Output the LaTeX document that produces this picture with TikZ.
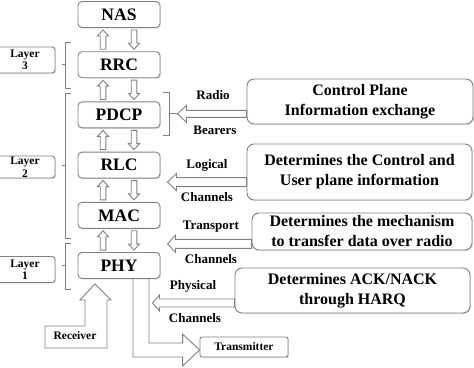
\documentclass[tikz,border=0pt]{standalone}
\usepackage{fontspec}
\setmainfont{Liberation Serif}
\usepackage{tikz}
\usetikzlibrary{calc,shadows}
\definecolor{clrL}{RGB}{128,128,128}
\definecolor{clrS}{RGB}{200,200,200}
\newcommand{\bigf}{\fontsize{16}{20}\selectfont\bfseries}
\newcommand{\smallf}{\fontsize{11.5}{12.5}\selectfont\bfseries}
% hollow block arrow: shaft half width, head half width, head length, tail, tip
\newcommand{\blockarrow}[5]{%
  \coordinate (ba-t) at #4;
  \coordinate (ba-h) at #5;
  \coordinate (ba-c) at ($(ba-h)!#3pt!(ba-t)$);
  \draw[hollow] ($(ba-t)!#1pt!90:(ba-h)$) -- ($(ba-c)!#1pt!90:(ba-h)$)
    -- ($(ba-c)!#2pt!90:(ba-h)$) -- (ba-h) -- ($(ba-c)!#2pt!-90:(ba-h)$)
    -- ($(ba-c)!#1pt!-90:(ba-h)$) -- ($(ba-t)!#1pt!-90:(ba-h)$) -- cycle;
}
\tikzset{
  stackbox/.style={draw=clrL,line width=0.9pt,rounded corners=4pt,fill=white,inner sep=0pt,
    minimum width=82pt,minimum height=26pt,font=\fontsize{17.5}{20}\selectfont\bfseries,
    drop shadow={shadow xshift=1pt,shadow yshift=-1pt,fill=clrS}},
  infobox/.style={draw=clrL,line width=0.9pt,rounded corners=7pt,fill=white,inner sep=0pt,
    align=center,font=\bigf,drop shadow={shadow xshift=1pt,shadow yshift=-1pt,fill=clrS}},
  layerbox/.style={draw=clrL,line width=0.9pt,rounded corners=3pt,fill=white,inner sep=0pt,
    minimum width=60pt,minimum height=26pt,align=center,font=\smallf,
    drop shadow={shadow xshift=1pt,shadow yshift=-1pt,fill=clrS}},
  chan/.style={font=\fontsize{13}{15}\selectfont\bfseries},
  hollow/.style={draw=clrL,line width=0.9pt,fill=white,line join=miter},
  brk/.style={draw=clrL,line width=0.9pt}
}

\begin{document}
\begin{tikzpicture}[x=1pt,y=-1pt]
  \useasboundingbox (0,0) rectangle (474,367);

  % protocol stack
  \foreach \nm/\lab [count=\i from 0] in {nas/NAS,rrc/RRC,pdcp/PDCP,rlc/RLC,mac/MAC,phy/PHY}{
    \node[stackbox] (\nm) at (119,{14.5+50.2*\i}) {\lab};
  }
  \foreach \a/\b in {nas/rrc,rrc/pdcp,pdcp/rlc,rlc/mac,mac/phy}{
    \blockarrow{2.8}{5.5}{6}{($(\b.north)+(-16,-2)$)}{($(\a.south)+(-16,2)$)}
    \blockarrow{2.8}{5.5}{6}{($(\a.south)+(15,2)$)}{($(\b.north)+(15,-2)$)}
  }

  % layer brackets and labels
  \foreach \top/\bot/\k in {rrc/rrc/3,pdcp/mac/2,phy/phy/1}{
    \draw[brk] ($(\top.north west)+(-7,-8.5)$) -- ++(-5,0) |- ($(\bot.south west)+(-7,10)$);
    \coordinate (br\k) at ($(\top.north west)!0.5!(\bot.south west)+(-12,0)$);
    \draw[brk] (br\k) -- ++(-4,0);
  }
  \node[layerbox] (lay3) at (25,60) {Layer\\3};
  \node[layerbox,minimum height=22pt] (lay2) at (25,167) {Layer\\2};
  \node[layerbox] (lay1) at (25,269.5) {Layer\\1};

  % right side info boxes
  \node[infobox,minimum width=226pt,minimum height=45pt] (cpinfo) at (360,101.5)
    {Control Plane\\Information exchange};
  \node[infobox,minimum width=225pt,minimum height=56pt] (upinfo) at (359.5,172)
    {Determines the Control and\\User plane information};
  \node[infobox,minimum width=220pt,minimum height=37pt] (trinfo) at (362,231.5)
    {Determines the mechanism\\to transfer data over radio};
  \node[infobox,minimum width=235pt,minimum height=45pt] (hqinfo) at (352.5,290.5)
    {Determines ACK/NACK\\through HARQ};

  % radio bearers bracket on PDCP
  \draw[brk] ($(pdcp.north east)+(3,-9)$) -- ++(6,0) |- ($(pdcp.south east)+(3,7)$);
  \coordinate (pdcpbr) at ($(pdcp.east)+(9,-1)$);
  \draw[brk] (pdcpbr) -- ++(8,0) coordinate (radiotip);

  % channel arrows
  \coordinate (lgtip) at ($(rlc.east)+(7,17)$);
  \coordinate (tptip) at ($(mac.east)+(7,28.5)$);
  \coordinate (phtip) at ($(phy.east)+(-8,37.5)$);
  \blockarrow{3.5}{8.5}{9}{(cpinfo.west |- radiotip)}{(radiotip)}
  \blockarrow{4.5}{8.5}{9}{(upinfo.west |- lgtip)}{(lgtip)}
  \blockarrow{4.5}{8.5}{8}{(trinfo.west |- tptip)}{(tptip)}
  \blockarrow{4}{8}{7}{(hqinfo.west |- phtip)}{(phtip)}

  \node[chan] (radio) at (213,95) {Radio};
  \node[chan] (bearers) at (215,130) {Bearers};
  \node[chan] (logical) at (207,165) {Logical};
  \node[chan] (lgchan) at (207,197) {Channels};
  \node[chan] (transport) at (211,227) {Transport};
  \node[chan] (tpchan) at (211,259) {Channels};
  \node[chan] (physical) at (193,286) {Physical};
  \node[chan] (phchan) at (195,318) {Channels};

  % transmitter
  \node[layerbox,minimum width=88pt,minimum height=20pt,rounded corners=2pt] (tx) at (244,347) {Transmitter};
  \coordinate (txa) at ($(phy.south)+(14,0)$);
  \coordinate (txb) at ($(phy.south)+(30,0)$);
  \coordinate (txtip) at ($(tx.west)+(0,3)$);
  \draw[hollow,fill=none] (txa) |- ($(txtip)+(-17,7)$) -- ++(0,9) -- (txtip)
    -- ++(-17,-16) -- ++(0,9) -| (txb);

  % receiver
  \coordinate (rxtip) at ($(phy.south)+(-24,5)$);
  \draw[hollow] (rxtip) -- ++(16,16) -- ++(-4,0) -- ++(0,48) -- ++(-62,0)
    -- ++(0,-22) -- ++(40,0) -- ++(0,-26) -- ++(-5,0) -- cycle;
  \node[font=\smallf] (rx) at (75,336) {Receiver};
\end{tikzpicture}
\end{document}
